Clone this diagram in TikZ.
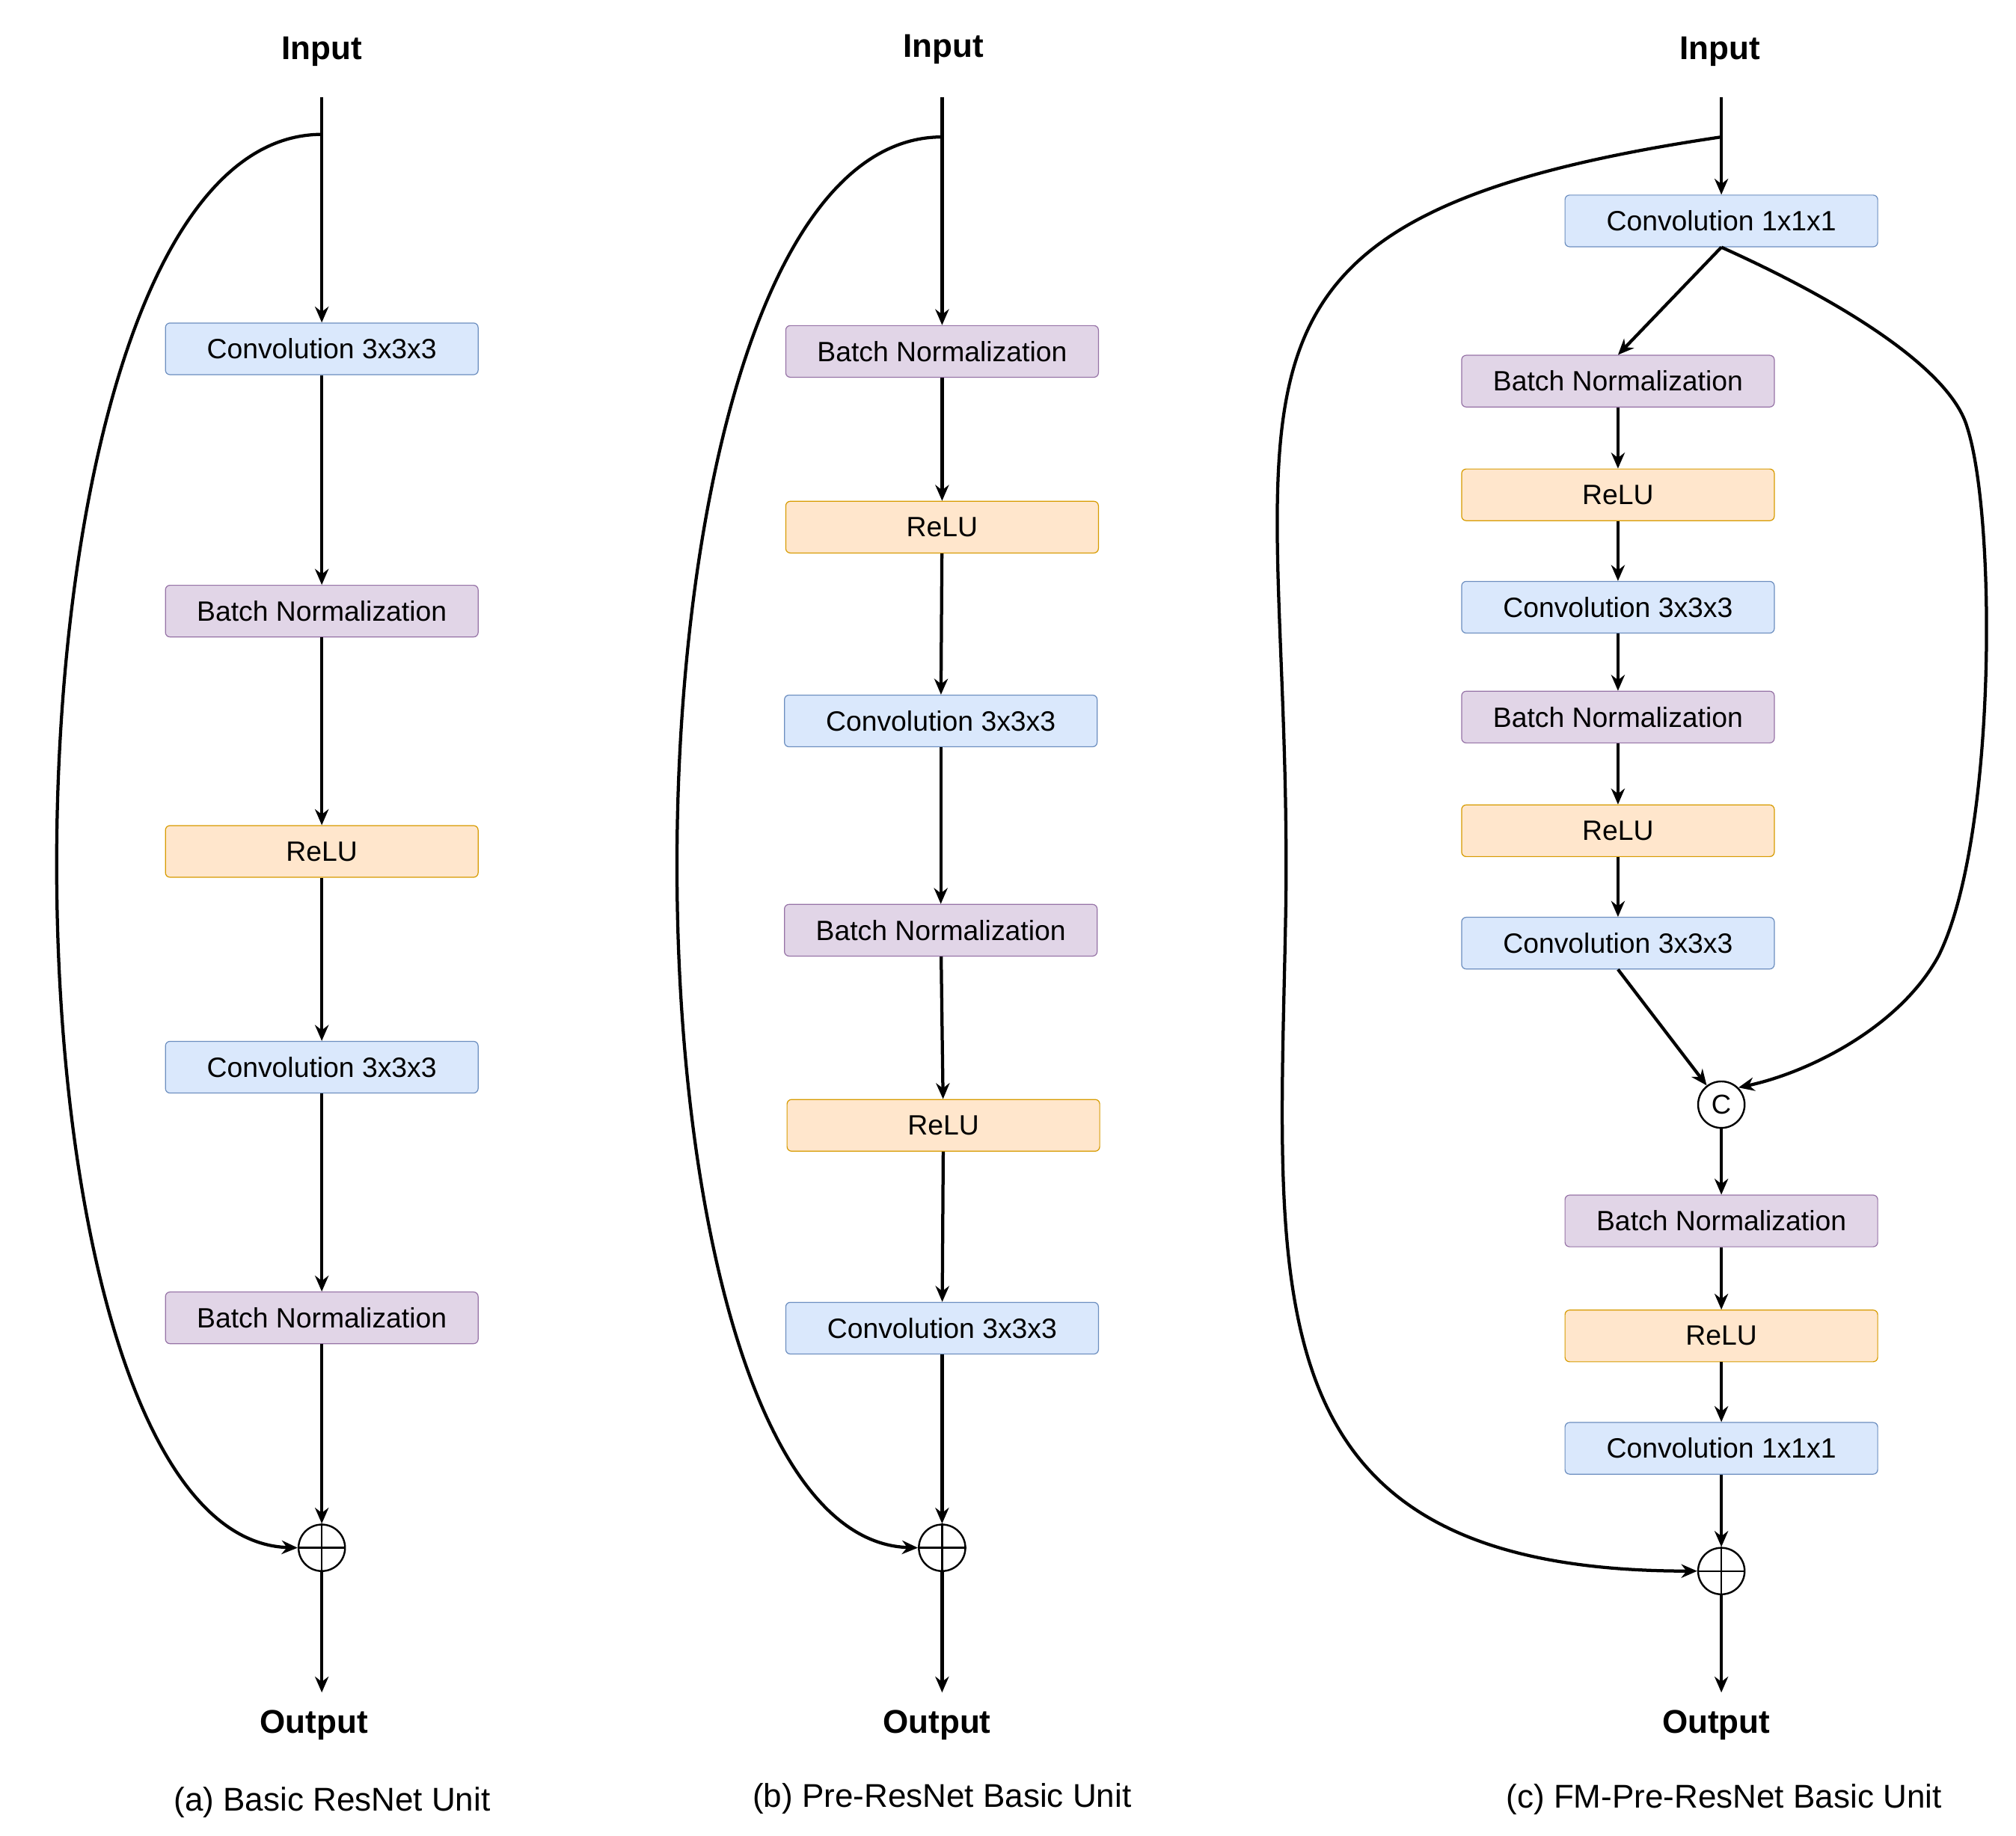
\documentclass[tikz,border=0pt]{standalone}
\usepackage{fontspec}
\setmainfont{Liberation Sans}
\usetikzlibrary{arrows.meta, positioning}
\definecolor{convfill}{HTML}{DAE8FC}\definecolor{convline}{HTML}{6C8EBF}
\definecolor{bnfill}{HTML}{E1D5E7}\definecolor{bnline}{HTML}{9673A6}
\definecolor{relufill}{HTML}{FFE6CC}\definecolor{reluline}{HTML}{D79B00}
\begin{document}
\begin{tikzpicture}[x=0.02cm, y=-0.02cm,
    block/.style={rectangle, rounded corners=2pt, minimum width=4.84cm, minimum height=0.8cm, inner sep=0pt, font=\fontsize{12.3}{14}\selectfont},
    conv/.style={block, draw=convline, fill=convfill},
    bn/.style={block, draw=bnline, fill=bnfill},
    relu/.style={block, draw=reluline, fill=relufill},
    op/.style={circle, draw, thick, minimum size=0.72cm, inner sep=0pt},
    title/.style={font=\fontsize{14.5}{16}\bfseries\selectfont},
    caption/.style={font=\fontsize{14.5}{16}\selectfont},
    arrow/.style={line width=1.4pt, -{Stealth[length=7pt,width=6pt]}}]
    \useasboundingbox (0,0) rectangle (1560,1421);

    % (a) Basic ResNet Unit
    \node [title] (ina) at (249,40) {Input};
    \coordinate (sa) at (249,75);
    \coordinate (ba) at (249,104);
    \node [conv] (a1) at (249,270) {Convolution 3x3x3};
    \node [bn] (a2) at (249,473) {Batch Normalization};
    \node [relu] (a3) at (249,659) {ReLU};
    \node [conv] (a4) at (249,826) {Convolution 3x3x3};
    \node [bn] (a5) at (249,1020) {Batch Normalization};
    \node [op] (pa) at (249,1198) {};
    \draw [thick] (pa.north) -- (pa.south) (pa.west) -- (pa.east);
    \coordinate (oa) at (249,1310);
    \node [title] (outa) at (243,1335) {Output};
    \node [caption] (capa) at (257,1395) {(a) Basic ResNet Unit};
    \draw [line width=1.4pt] (sa) -- (ba);
    \draw [arrow] (ba) -- (a1);
    \draw [arrow] (a1) -- (a2);
    \draw [arrow] (a2) -- (a3);
    \draw [arrow] (a3) -- (a4);
    \draw [arrow] (a4) -- (a5);
    \draw [arrow] (a5) -- (pa);
    \draw [arrow] (pa) -- (oa);
    \draw [arrow] (ba) .. controls (-20,104) and (-20,1190) .. (pa.west);

    % (b) Pre-ResNet Basic Unit
    \node [title] (inb) at (730,38) {Input};
    \coordinate (sb) at (729,75);
    \coordinate (bb) at (729,106);
    \node [bn] (b1) at (729,272) {Batch Normalization};
    \node [relu] (b2) at (729,408) {ReLU};
    \node [conv] (b3) at (728,558) {Convolution 3x3x3};
    \node [bn] (b4) at (728,720) {Batch Normalization};
    \node [relu] (b5) at (730,871) {ReLU};
    \node [conv] (b6) at (729,1028) {Convolution 3x3x3};
    \node [op] (pb) at (729,1198) {};
    \draw [thick] (pb.north) -- (pb.south) (pb.west) -- (pb.east);
    \coordinate (ob) at (729,1310);
    \node [title] (outb) at (725,1335) {Output};
    \node [caption] (capb) at (729,1392) {(b) Pre-ResNet Basic Unit};
    \draw [line width=1.4pt] (sb) -- (bb);
    \draw [arrow] (bb) -- (b1);
    \draw [arrow] (b1) -- (b2);
    \draw [arrow] (b2) -- (b3);
    \draw [arrow] (b3) -- (b4);
    \draw [arrow] (b4) -- (b5);
    \draw [arrow] (b5) -- (b6);
    \draw [arrow] (b6) -- (pb);
    \draw [arrow] (pb) -- (ob);
    \draw [arrow] (bb) .. controls (460,106) and (460,1190) .. (pb.west);

    % (c) FM-Pre-ResNet Basic Unit
    \node [title] (inc) at (1331,40) {Input};
    \coordinate (sc) at (1332,75);
    \coordinate (bc) at (1332,106);
    \node [conv] (c0) at (1332,171) {Convolution 1x1x1};
    \node [bn] (c1) at (1252,295) {Batch Normalization};
    \node [relu] (c2) at (1252,383) {ReLU};
    \node [conv] (c3) at (1252,470) {Convolution 3x3x3};
    \node [bn] (c4) at (1252,555) {Batch Normalization};
    \node [relu] (c5) at (1252,643) {ReLU};
    \node [conv] (c6) at (1252,730) {Convolution 3x3x3};
    \node [op, font=\fontsize{12}{14}\selectfont] (cc) at (1332,855) {C};
    \node [bn] (c7) at (1332,945) {Batch Normalization};
    \node [relu] (c8) at (1332,1034) {ReLU};
    \node [conv] (c9) at (1332,1121) {Convolution 1x1x1};
    \node [op] (pc) at (1332,1216) {};
    \draw [thick] (pc.north) -- (pc.south) (pc.west) -- (pc.east);
    \coordinate (oc) at (1332,1310);
    \node [title] (outc) at (1328,1335) {Output};
    \node [caption] (capc) at (1334,1393) {(c) FM-Pre-ResNet Basic Unit};
    \draw [line width=1.4pt] (sc) -- (bc);
    \draw [arrow] (bc) -- (c0);
    \draw [arrow] (c0.south) -- (c1.north);
    \draw [arrow] (c1) -- (c2);
    \draw [arrow] (c2) -- (c3);
    \draw [arrow] (c3) -- (c4);
    \draw [arrow] (c4) -- (c5);
    \draw [arrow] (c5) -- (c6);
    \draw [arrow] (c6.south) -- (cc);
    \draw [arrow] (c0.south) .. controls (1440,240) and (1510,290) .. (1522,330)
        .. controls (1545,400) and (1545,650) .. (1500,740)
        .. controls (1470,795) and (1400,830) .. (cc.north east);
    \draw [arrow] (cc) -- (c7);
    \draw [arrow] (c7) -- (c8);
    \draw [arrow] (c8) -- (c9);
    \draw [arrow] (c9) -- (pc);
    \draw [arrow] (pc) -- (oc);
    \draw [arrow] (bc) .. controls (900,170) and (1000,300) .. (995,700)
        .. controls (990,1000) and (960,1216) .. (pc.west);
\end{tikzpicture}
\end{document}
